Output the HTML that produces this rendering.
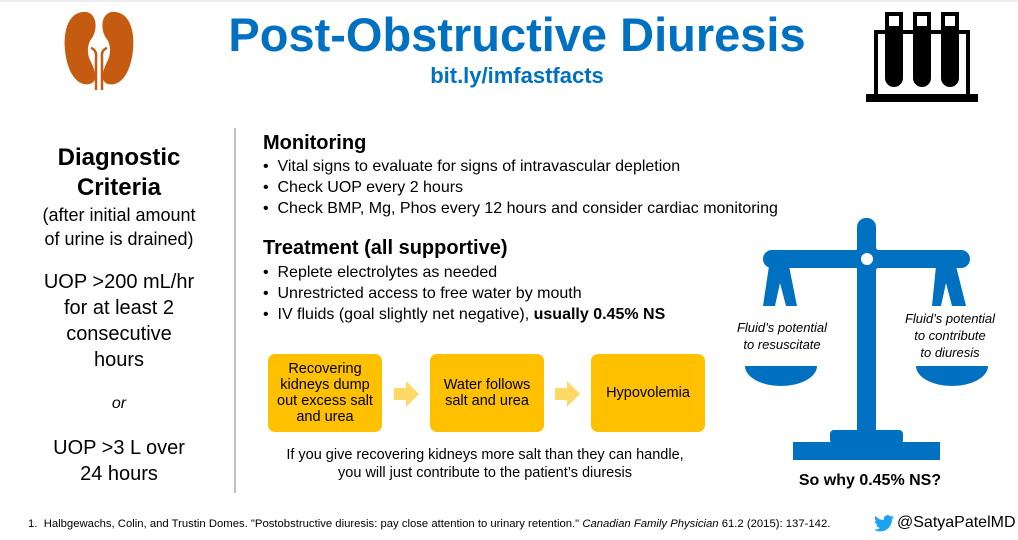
<!DOCTYPE html>
<html><head><meta charset="utf-8"><style>
*{margin:0;padding:0;box-sizing:border-box}
body{width:1018px;height:540px;background:#fff;position:relative;overflow:hidden;font-family:"Liberation Sans",Arial,sans-serif;color:#000}
.a{position:absolute;white-space:nowrap}
.c{text-align:center}
.box{position:absolute;background:#ffc000;border-radius:7px;display:flex;align-items:center;justify-content:center;text-align:center;font-size:14.5px;line-height:16px;color:#000}
</style></head><body>
<div style="position:absolute;left:0;top:0;width:1018px;height:2px;background:#eee"></div>
<!-- kidneys -->
<svg class="a" style="left:60px;top:8px" width="78" height="84" viewBox="0 0 78 84">
<path d="M27 4 C9 2 3 22 5 42 C7 64 17 79 30 76 C39 73 35 62 30 52 C27 45 27 36 32 30 C37 23 38 7 27 4Z" fill="#c55a11"/>
<path d="M51 4 C69 2 75 22 73 42 C71 64 61 79 48 76 C39 73 43 62 48 52 C51 45 51 36 46 30 C41 23 40 7 51 4Z" fill="#c55a11"/>
<path d="M31 40 Q37 42 36 50 L36 82 M47 40 Q41 42 42 50 L42 82" stroke="#c55a11" stroke-width="2.5" fill="none"/>
</svg>
<!-- test tubes -->
<svg class="a" style="left:866px;top:8px" width="116" height="96" viewBox="0 0 116 96">
<rect x="0" y="86" width="112" height="8" fill="#000"/>
<rect x="8" y="22" width="96" height="4" fill="#000"/>
<rect x="8" y="22" width="4" height="66" fill="#000"/>
<rect x="100" y="22" width="4" height="66" fill="#000"/>
<g fill="#000">
<path d="M19 4 h18 v66 a9 9 0 0 1 -18 0z"/>
<path d="M47 4 h18 v66 a9 9 0 0 1 -18 0z"/>
<path d="M75 4 h18 v66 a9 9 0 0 1 -18 0z"/>
</g>
<g fill="#fff"><rect x="23" y="8" width="10" height="10"/><rect x="51" y="8" width="10" height="10"/><rect x="79" y="8" width="10" height="10"/></g>
</svg>
<div class="a c" style="left:180px;width:674px;top:7px;font-size:47px;font-weight:bold;color:#0070c0">Post-Obstructive Diuresis</div>
<div class="a c" style="left:380px;width:274px;top:63px;font-size:22px;font-weight:bold;color:#0070c0">bit.ly/imfastfacts</div>

<div style="position:absolute;left:234px;top:128px;width:2px;height:365px;background:#bfbfbf"></div>

<div class="a c" style="left:0;width:238px;top:143px;font-size:24px;font-weight:bold;line-height:30px">Diagnostic<br>Criteria</div>
<div class="a c" style="left:0;width:238px;top:203px;font-size:18px;line-height:24px">(after initial amount<br>of urine is drained)</div>
<div class="a c" style="left:0;width:238px;top:269px;font-size:20px;line-height:26px">UOP &gt;200 mL/hr<br>for at least 2<br>consecutive<br>hours</div>
<div class="a c" style="left:0;width:238px;top:395px;font-size:16px;font-style:italic">or</div>
<div class="a c" style="left:0;width:238px;top:435px;font-size:20px;line-height:26px">UOP &gt;3 L over<br>24 hours</div>

<div class="a" style="left:263px;top:132px;font-size:20px;font-weight:bold">Monitoring</div>
<div class="a" style="left:263px;top:156px;font-size:16px;line-height:21px">•&nbsp; Vital signs to evaluate for signs of intravascular depletion<br>•&nbsp; Check UOP every 2 hours<br>•&nbsp; Check BMP, Mg, Phos every 12 hours and consider cardiac monitoring</div>
<div class="a" style="left:263px;top:237px;font-size:20px;font-weight:bold">Treatment (all supportive)</div>
<div class="a" style="left:263px;top:262px;font-size:16px;line-height:21px">•&nbsp; Replete electrolytes as needed<br>•&nbsp; Unrestricted access to free water by mouth<br>•&nbsp; IV fluids (goal slightly net negative), <b>usually 0.45% NS</b></div>

<div class="box" style="left:268px;top:354px;width:114px;height:78px">Recovering<br>kidneys dump<br>out excess salt<br>and urea</div>
<div class="box" style="left:430px;top:354px;width:114px;height:78px">Water follows<br>salt and urea</div>
<div class="box" style="left:591px;top:354px;width:114px;height:78px">Hypovolemia</div>
<svg class="a" style="left:394px;top:381px" width="26" height="26"><path d="M0 7 h12 v-7 l13 13 l-13 13 v-7 h-12z" fill="#ffd966"/></svg>
<svg class="a" style="left:555px;top:381px" width="26" height="26"><path d="M0 7 h12 v-7 l13 13 l-13 13 v-7 h-12z" fill="#ffd966"/></svg>
<div class="a c" style="left:250px;width:470px;top:446px;font-size:14.5px;line-height:18px">If you give recovering kidneys more salt than they can handle,<br>you will just contribute to the patient’s diuresis</div>

<!-- scale -->
<svg class="a" style="left:740px;top:215px" width="255" height="250" viewBox="740 215 255 250">
<g fill="#0070c0">
<rect x="857" y="218" width="19" height="220" rx="9"/>
<rect x="763" y="250" width="207" height="18" rx="9"/>
<circle cx="867" cy="259" r="14"/>
<path d="M769 266 h20 l8 40 h-34z"/>
<path d="M936 266 h20 l10 40 h-34z"/>
<path d="M745 366 h72 a36 20 0 0 1 -72 0z"/>
<path d="M916 366 h72 a36 20 0 0 1 -72 0z"/>
<rect x="830" y="430" width="73" height="14" rx="4"/>
<rect x="793" y="442" width="147" height="18"/>
</g>
<path d="M780 283 l-5 23 h11z M946 283 l-5 23 h11z" fill="#fff"/>
<circle cx="867" cy="259" r="6" fill="#fff"/>
</svg>
<div class="a c" style="left:728px;width:108px;top:319px;font-size:13px;font-style:italic;line-height:17px">Fluid’s potential<br>to resuscitate</div>
<div class="a c" style="left:895px;width:110px;top:310px;font-size:13px;font-style:italic;line-height:17px">Fluid’s potential<br>to contribute<br>to diuresis</div>
<div class="a c" style="left:745px;width:250px;top:472px;font-size:16px;font-weight:bold">So why 0.45% NS?</div>

<div class="a" style="left:28px;top:518px;font-size:11.3px">1.&nbsp; Halbgewachs, Colin, and Trustin Domes. "Postobstructive diuresis: pay close attention to urinary retention." <i>Canadian Family Physician</i> 61.2 (2015): 137-142.</div>
<svg class="a" style="left:874px;top:515px" width="20" height="17" viewBox="0 0 24 20"><path d="M24 2.4a10 10 0 0 1-2.8.8A5 5 0 0 0 23.3.4a10 10 0 0 1-3.1 1.2A4.9 4.9 0 0 0 11.8 6 14 14 0 0 1 1.7.9a4.9 4.9 0 0 0 1.5 6.6A4.9 4.9 0 0 1 1 6.9a4.9 4.9 0 0 0 3.9 4.8 5 5 0 0 1-2.2.1 4.9 4.9 0 0 0 4.6 3.4A9.9 9.9 0 0 1 0 17.3 14 14 0 0 0 7.5 19.5c9.1 0 14-7.5 14-14v-.6A10 10 0 0 0 24 2.4z" fill="#1da1f2"/></svg>
<div class="a" style="left:897px;top:514px;font-size:16px">@SatyaPatelMD</div>
</body></html>
